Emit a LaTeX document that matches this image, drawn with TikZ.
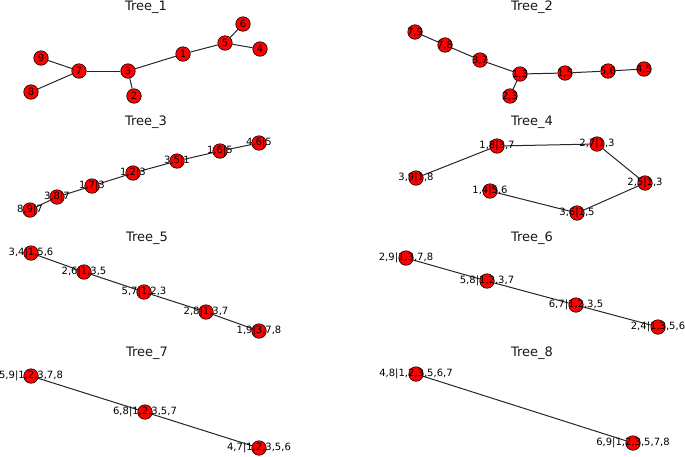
\documentclass[tikz,border=0pt]{standalone}
\usepackage{fontspec}
\setmainfont{DejaVu Sans}
\begin{document}
\begin{tikzpicture}[x=1pt,y=-1pt,
  dot/.style={circle,draw=black,line width=0.6pt,fill=red,minimum size=14.5pt,inner sep=0pt},
  lbl/.style={font=\fontsize{10}{10}\selectfont,inner sep=0pt,text=black},
  ttl/.style={font=\fontsize{13}{13}\selectfont,inner sep=0pt,text=black!90},
  edge/.style={draw=black!85,line width=1pt}]
\useasboundingbox (0,0) rectangle (685,456);
\clip (0,0) rectangle (685,456);
% titles
\node[ttl] (T1) at (146,7) {Tree\_1};
\node[ttl] (T2) at (532,7) {Tree\_2};
\node[ttl] (T3) at (146,122) {Tree\_3};
\node[ttl] (T4) at (532,122) {Tree\_4};
\node[ttl] (T5) at (147,238) {Tree\_5};
\node[ttl] (T6) at (532,238) {Tree\_6};
\node[ttl] (T7) at (147,353) {Tree\_7};
\node[ttl] (T8) at (532,353) {Tree\_8};
% Tree 1
\foreach \n/\x/\y in {a6/243/24,a5/225/43,a4/260/49,a1/183/54,a3/128/71,a7/79/71,a9/41/58,a8/31/92,a2/134/96}
  {\node[dot] (\n) at (\x,\y) {};}
\foreach \u/\v in {a6/a5,a5/a4,a5/a1,a1/a3,a3/a7,a3/a2,a7/a9,a7/a8}
  {\draw[edge] (\u) -- (\v);}
\foreach \n/\t in {a6/6,a5/5,a4/4,a1/1,a3/3,a7/7,a9/9,a8/8,a2/2}
  {\node[lbl] (l\n) at (\n) {\t};}
% Tree 2
\foreach \n/\x/\y in {b79/415/32,b78/445/45,b37/480/60,b13/520/74,b23/510/96,b15/565/73,b56/608/71,b45/644/69}
  {\node[dot] (\n) at (\x,\y) {};}
\foreach \u/\v in {b79/b78,b78/b37,b37/b13,b13/b23,b13/b15,b15/b56,b56/b45}
  {\draw[edge] (\u) -- (\v);}
\foreach \n/\t in {b79/{7,9},b78/{7,8},b37/{3,7},b13/{1,3},b23/{2,3},b15/{1,5},b56/{5,6},b45/{4,5}}
  {\node[lbl] (l\n) at (\n) {\t};}
% Tree 3
\foreach \n/\x/\y in {c1/30/210,c2/57/197,c3/92/186,c4/133/173,c5/177/161,c6/220/151,c7/259/143}
  {\node[dot] (\n) at (\x,\y) {};}
\foreach \u/\v in {c1/c2,c2/c3,c3/c4,c4/c5,c5/c6,c6/c7}
  {\draw[edge] (\u) -- (\v);}
\foreach \n/\t in {c1/{8,9|7},c2/{3,8|7},c3/{1,7|3},c4/{1,2|3},c5/{3,5|1},c6/{1,6|5},c7/{4,6|5}}
  {\node[lbl] (l\n) at (\n) {\t};}
% Tree 4
\foreach \n/\x/\y in {d1/416/178,d2/497/146,d3/597/144,d4/645/183,d5/577/213,d6/490/191}
  {\node[dot] (\n) at (\x,\y) {};}
\foreach \u/\v in {d1/d2,d2/d3,d3/d4,d4/d5,d5/d6}
  {\draw[edge] (\u) -- (\v);}
\foreach \n/\t in {d1/{3,9|1,8},d2/{1,8|3,7},d3/{2,7|1,3},d4/{2,5|1,3},d5/{3,6|1,5},d6/{1,4|5,6}}
  {\node[lbl] (l\n) at (\n) {\t};}
% Tree 5
\foreach \n/\x/\y in {e1/31/253,e2/84/272,e3/144/292,e4/206/312,e5/259/331}
  {\node[dot] (\n) at (\x,\y) {};}
\foreach \u/\v in {e1/e2,e2/e3,e3/e4,e4/e5}
  {\draw[edge] (\u) -- (\v);}
\foreach \n/\t in {e1/{3,4|1,5,6},e2/{2,6|1,3,5},e3/{5,7|1,2,3},e4/{2,8|1,3,7},e5/{1,9|3,7,8}}
  {\node[lbl] (l\n) at (\n) {\t};}
% Tree 6
\foreach \n/\x/\y in {f1/406/258,f2/487/281,f3/576/305,f4/658/327}
  {\node[dot] (\n) at (\x,\y) {};}
\foreach \u/\v in {f1/f2,f2/f3,f3/f4}
  {\draw[edge] (\u) -- (\v);}
\foreach \n/\t in {f1/{2,9|1,3,7,8},f2/{5,8|1,2,3,7},f3/{6,7|1,2,3,5},f4/{2,4|1,3,5,6}}
  {\node[lbl] (l\n) at (\n) {\t};}
% Tree 7
\foreach \n/\x/\y in {g1/31/376,g2/145/412,g3/259/448}
  {\node[dot] (\n) at (\x,\y) {};}
\foreach \u/\v in {g1/g2,g2/g3}
  {\draw[edge] (\u) -- (\v);}
\foreach \n/\t in {g1/{5,9|1,2,3,7,8},g2/{6,8|1,2,3,5,7},g3/{4,7|1,2,3,5,6}}
  {\node[lbl] (l\n) at (\n) {\t};}
% Tree 8
\foreach \n/\x/\y in {h1/416/374,h2/633/443}
  {\node[dot] (\n) at (\x,\y) {};}
\draw[edge] (h1) -- (h2);
\foreach \n/\t in {h1/{4,8|1,2,3,5,6,7},h2/{6,9|1,2,3,5,7,8}}
  {\node[lbl] (l\n) at (\n) {\t};}
\end{tikzpicture}
\end{document}
